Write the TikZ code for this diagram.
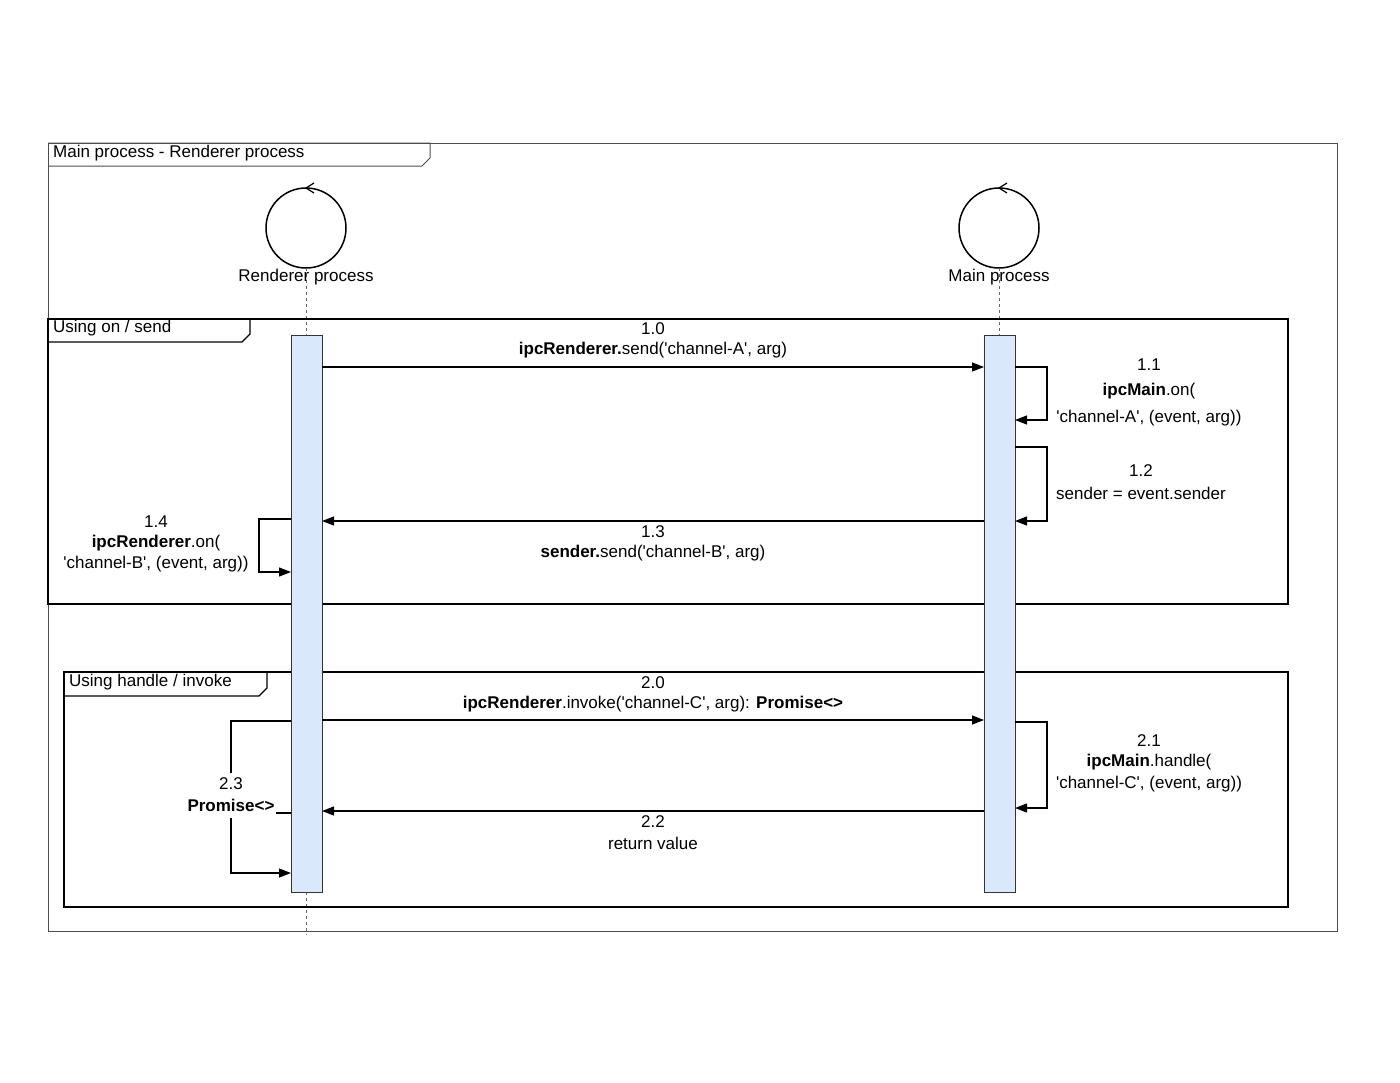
\documentclass[tikz,border=0pt]{standalone}
\usepackage{fontspec}
\setmainfont{Liberation Sans}
\usetikzlibrary{arrows.meta}
\definecolor{actfill}{HTML}{DAE8FC}
\newcommand{\q}{\textquotesingle}
\begin{document}
\begin{tikzpicture}[x=1pt,y=-1pt,
  txt/.style={font=\fontsize{17}{20}\selectfont,inner sep=1pt},
  msg/.style={-{Triangle[length=12pt,width=9pt]},line width=1.2pt},
  fr/.style={line width=1.3pt,draw=black},
  act/.style={draw=black!80,fill=actfill,line width=1pt},
  life/.style={dashed,draw=black!60,line width=0.9pt}]
\useasboundingbox (0,0) rectangle (1400,1082);
\draw[line width=1pt,draw=black!70] (48,143) rectangle (1337,931);
\draw[line width=1pt,draw=black!70] (48,143) -- (430,143) -- (430,158) -- (422,166) -- (48,166);
\node[txt,anchor=west] (t0) at (52,153) {Main process - Renderer process};
% actors
\node[draw,circle,minimum size=80pt,line width=1.5pt,inner sep=0] (rc) at (306,228) {};
\node[draw,circle,minimum size=80pt,line width=1.5pt,inner sep=0] (mc) at (999,228) {};
\draw[line width=1.2pt] (314,183) -- (306,188) -- (314,193);
\draw[line width=1.2pt] (1007,183) -- (999,188) -- (1007,193);
\draw[life] (306,268) -- (306,935);
\draw[life] (999,268) -- (999,335);
\node[txt] (rl) at (306,277) {Renderer process};
\node[txt] (ml) at (999,277) {Main process};
% frames
\draw[fr] (48,319) rectangle (1288,604);
\draw[fr] (48,319) -- (250,319) -- (250,334) -- (242,342) -- (48,342);
\node[txt,anchor=west] (f1) at (52,328) {Using on / send};
\draw[fr] (64,672) rectangle (1288,907);
\draw[fr] (64,672) -- (267,672) -- (267,688) -- (259,696) -- (64,696);
\node[txt,anchor=west] (f2) at (68,682) {Using handle / invoke};
% activations
\node[act,minimum width=31pt,minimum height=557pt,inner sep=0,anchor=north west] (ra) at (291,335) {};
\node[act,minimum width=31pt,minimum height=557pt,inner sep=0,anchor=north west] (ma) at (984,335) {};
% 1.0
\coordinate (a0) at (322,367); \coordinate (b0) at (984,367);
\draw[msg] (a0) -- (b0);
\node[txt] at (653,329) {1.0};
\node[txt] at (653,350) {\textbf{ipcRenderer.}send(\q channel-A\q, arg)};
% 1.1
\coordinate (a1) at (1015,367); \coordinate (b1) at (1015,420);
\draw[msg] (a1) -- (1047,367) -- (1047,420) -- (b1);
\node[txt] at (1149,365) {1.1};
\node[txt] at (1149,391) {\textbf{ipcMain}.on(};
\node[txt] at (1149,418) {\q channel-A\q, (event, arg))};
% 1.2
\coordinate (a2) at (1015,447); \coordinate (b2) at (1015,521);
\draw[msg] (a2) -- (1047,447) -- (1047,521) -- (b2);
\node[txt] at (1141,471) {1.2};
\node[txt] at (1141,493) {sender = event.sender};
% 1.3
\coordinate (a3) at (984,521); \coordinate (b3) at (322,521);
\draw[msg] (a3) -- (b3);
\node[txt] at (653,532) {1.3};
\node[txt] at (653,553) {\textbf{sender.}send(\q channel-B\q, arg)};
% 1.4
\coordinate (a4) at (291,519); \coordinate (b4) at (291,572);
\draw[msg] (a4) -- (259,519) -- (259,572) -- (b4);
\node[txt] at (156,522) {1.4};
\node[txt] at (156,543) {\textbf{ipcRenderer}.on(};
\node[txt] at (156,564) {\q channel-B\q, (event, arg))};
% 2.0
\coordinate (a5) at (322,720); \coordinate (b5) at (984,720);
\draw[msg] (a5) -- (b5);
\node[txt] at (653,683) {2.0};
\node[txt] at (653,704) {\textbf{ipcRenderer}.invoke(\q channel-C\q, arg): \textbf{Promise<>}};
% 2.1
\coordinate (a6) at (1015,722); \coordinate (b6) at (1015,808);
\draw[msg] (a6) -- (1047,722) -- (1047,808) -- (b6);
\node[txt] at (1149,741) {2.1};
\node[txt] at (1149,762) {\textbf{ipcMain}.handle(};
\node[txt] at (1149,784) {\q channel-C\q, (event, arg))};
% 2.2
\coordinate (a7) at (984,811); \coordinate (b7) at (322,811);
\draw[msg] (a7) -- (b7);
\node[txt] at (653,822) {2.2};
\node[txt] at (653,843) {return value};
% 2.3
\coordinate (a8) at (291,721); \coordinate (b8) at (291,873);
\draw[line width=1.2pt] (a8) -- (231,721) -- (231,773);
\draw[msg] (231,818) -- (231,873) -- (b8);
\draw[line width=1.2pt] (276,813) -- (291,813);
\node[txt] at (231,784) {2.3};
\node[txt] at (231,805) {\textbf{Promise<>}};
\end{tikzpicture}
\end{document}
